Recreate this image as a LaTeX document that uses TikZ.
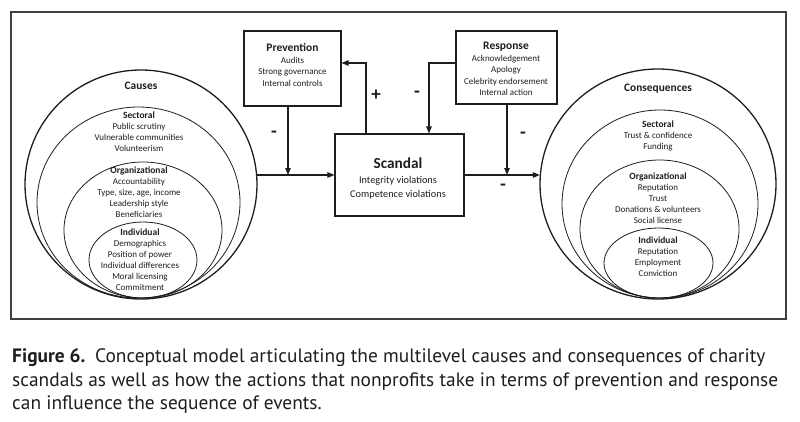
\documentclass[tikz,border=0pt]{standalone}
\usepackage{fontspec}
\setmainfont{Carlito}
\newfontfamily\capfont{PT Sans}
\usetikzlibrary{arrows.meta,shapes.geometric}
\definecolor{ink}{HTML}{1E1E1E}
\newlength\capw
\begin{document}
\settowidth\capw{\capfont\fontsize{18}{18}\selectfont scandals as well as how the actions that nonprofits take in terms of prevention and response}%
\pgfmathsetmacro\capsz{18*766/\capw}%
\begin{tikzpicture}[x=1pt,y=-1pt,
  rectbox/.style={draw=ink,line width=1.1pt,inner sep=0},
  arr/.style={draw=ink,line width=1.1pt,-{Triangle[length=7pt,width=5.5pt]}},
  outerc/.style={ellipse,draw=ink,line width=1.3pt,inner sep=0},
  innerc/.style={ellipse,draw=ink,line width=0.8pt,inner sep=0},
  txt/.style={align=center,inner sep=0,anchor=north,text=ink,font=\fontsize{9}{10.9}\selectfont},
  ttl/.style={inner sep=0,anchor=north,text=ink,font=\bfseries\fontsize{11.4}{12}\selectfont},
  sign/.style={inner sep=0,text=ink,font=\bfseries\fontsize{19}{19}\selectfont},
  capt/.style={anchor=base west,inner sep=0,text=ink,font=\capfont\fontsize{\capsz}{\capsz}\selectfont}]
\useasboundingbox (0,0) rectangle (800,421);
\fill[white] (0,0) rectangle (800,421);
% frame
\draw[draw=ink!85,line width=1.3pt] (11,12) rectangle (786,319);
% boxes
\node[rectbox,minimum width=97pt,minimum height=75pt] (prev) at (292.5,68.5) {};
\node[rectbox,minimum width=101pt,minimum height=73pt] (resp) at (506.5,67.5) {};
\node[rectbox,minimum width=129pt,minimum height=82pt] (scandal) at (399.5,175) {};
\node[txt,font=\fontsize{9}{11.5}\selectfont] (prevT) at (292.5,43) {{\bfseries\fontsize{11.5}{11.5}\selectfont Prevention}\\[0.5pt]Audits\\Strong governance\\Internal controls};
\node[txt,font=\fontsize{9}{11.2}\selectfont] (respT) at (506,42) {{\bfseries\fontsize{11.5}{11.2}\selectfont Response}\\[0.8pt]Acknowledgement\\Apology\\Celebrity endorsement\\Internal action};
\node[txt,font=\fontsize{10.3}{14}\selectfont] (scanT) at (398,157.6) {{\bfseries\fontsize{15.3}{14}\selectfont Scandal}\\[1pt]Integrity violations\\Competence violations};
% causes
\node[outerc,minimum width=232pt,minimum height=229pt] (causes) at (141,184.5) {};
\node[innerc,minimum width=203pt,minimum height=191pt] (csec) at (138.5,202.5) {};
\node[innerc,minimum width=158pt,minimum height=136pt] (corg) at (143,230) {};
\node[innerc,minimum width=108pt,minimum height=76pt] (cind) at (143,260) {};
\node[ttl] (causesT) at (141,81.5) {Causes};
\node[txt] (csecT) at (139,111.7) {{\bfseries\fontsize{9.5}{10.9}\selectfont Sectoral}\\Public scrutiny\\Vulnerable communities\\Volunteerism};
\node[txt] (corgT) at (139,166.7) {{\bfseries\fontsize{9.5}{10.9}\selectfont Organizational}\\Accountability\\Type, size, age, income\\Leadership style\\Beneficiaries};
\node[txt] (cindT) at (140,228.7) {{\bfseries\fontsize{9.5}{10.9}\selectfont Individual}\\Demographics\\Position of power\\Individual differences\\Moral licensing\\Commitment};
% consequences
\node[outerc,minimum width=236pt,minimum height=230pt] (cons) at (658,184) {};
\node[innerc,minimum width=196pt,minimum height=188pt] (qsec) at (660,204) {};
\node[innerc,minimum width=159pt,minimum height=138pt] (qorg) at (659.5,229) {};
\node[innerc,minimum width=109pt,minimum height=70pt] (qind) at (658.5,263) {};
\node[ttl] (consT) at (658,83.5) {Consequences};
\node[txt] (qsecT) at (658,120.7) {{\bfseries\fontsize{9.5}{10.9}\selectfont Sectoral}\\Trust \& confidence\\Funding};
\node[txt] (qorgT) at (658,172.7) {{\bfseries\fontsize{9.5}{10.9}\selectfont Organizational}\\Reputation\\Trust\\Donations \& volunteers\\Social license};
\node[txt] (qindT) at (658,236.7) {{\bfseries\fontsize{9.5}{10.9}\selectfont Individual}\\Reputation\\Employment\\Conviction};
% connectors
\coordinate (pj) at (288,175);
\coordinate (rj) at (507,175);
\coordinate (su) at (366,63);
\coordinate (rd) at (429,63);
\draw[arr] (scandal.west -| causes.5) -- (scandal.west);
\draw[arr] (scandal.east) -- (scandal.east -| cons.175);
\draw[arr] (prev.south -| pj) -- (pj);
\draw[arr] (resp.south -| rj) -- (rj);
\draw[arr] (scandal.north -| su) -- (su) -- (prev.east |- su);
\draw[arr] (resp.west |- rd) -- (rd) -- (scandal.north -| rd);
% signs
\node[sign] (plus) at (376,95) {+};
\node[sign] (m1) at (417,94) {-};
\node[sign] (m2) at (274,134) {-};
\node[sign] (m3) at (523,135) {-};
\node[sign] (m4) at (503,187) {-};
% caption
\node[capt] (cap1) at (12,362) {\textbf{Figure 6.}\hspace{0.5em}Conceptual model articulating the multilevel causes and consequences of charity};
\node[capt] (cap2) at (12,386) {scandals as well as how the actions that nonprofits take in terms of prevention and response};
\node[capt] (cap3) at (12,409) {can influence the sequence of events.};
\end{tikzpicture}
\end{document}
